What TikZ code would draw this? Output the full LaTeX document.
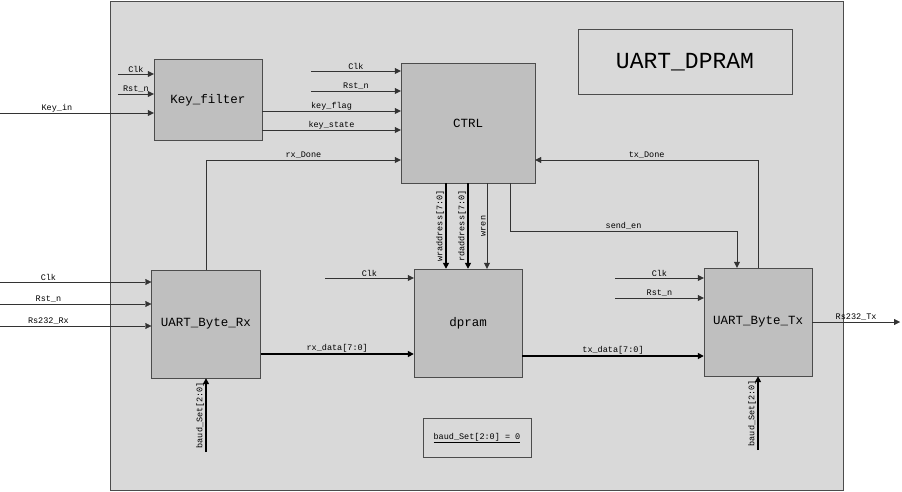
\documentclass[tikz,border=0pt]{standalone}
\usepackage{fontspec}
\setmainfont{Liberation Mono}
\usetikzlibrary{arrows.meta}
\definecolor{bgray}{RGB}{217,217,217}
\definecolor{mgray}{RGB}{191,191,191}
\begin{document}
\begin{tikzpicture}[x=1pt,y=-1pt,>={Triangle[length=6pt,width=6pt]},
  block/.style={draw=black!70,fill=mgray,inner sep=0pt,font=\fontsize{12.5}{12.5}\selectfont},
  sig/.style={->,draw=black!80,thin},
  bus/.style={->,draw=black,line width=1.6pt},
  lab/.style={font=\fontsize{8.5}{8.5}\selectfont,inner sep=1pt}]
\useasboundingbox (0,0) rectangle (902,491);

\node[draw=black!70,fill=bgray,minimum width=733pt,minimum height=489pt,anchor=north west] (top) at (110,1) {};
\node[draw=black!70,fill=bgray,minimum width=214pt,minimum height=65pt,font=\fontsize{23}{23}\selectfont] (title) at (685,62) {UART\_DPRAM};

\node[block,minimum width=108pt,minimum height=81pt] (kf) at (208,100) {Key\_filter};
\node[block,minimum width=134pt,minimum height=120pt] (ctrl) at (468,123) {CTRL};
\node[block,minimum width=108pt,minimum height=108pt] (ram) at (468,323) {dpram};
\node[block,minimum width=109pt,minimum height=108pt] (rx) at (206,324) {UART\_Byte\_Rx};
\node[block,minimum width=108pt,minimum height=108pt] (tx) at (758,322) {UART\_Byte\_Tx};
\node[draw=black!70,minimum width=108pt,minimum height=39pt,lab] (baud) at (477,438) {\underline{baud\_Set[2:0] = 0}};

% Key_filter inputs
\coordinate (kclk) at (118,74);
\coordinate (krst) at (118,94);
\coordinate (kin) at (0,113);
\draw[sig] (kclk) -- node[lab,above]{Clk} (kclk -| kf.west);
\draw[sig] (krst) -- node[lab,above]{Rst\_n} (krst -| kf.west);
\draw[sig] (kin) -- node[lab,above,pos=0.37]{Key\_in} (kin -| kf.west);

% CTRL inputs
\coordinate (cclk) at (311,71);
\coordinate (crst) at (311,91);
\draw[sig] (cclk) -- node[lab,above]{Clk} (cclk -| ctrl.west);
\draw[sig] (crst) -- node[lab,above]{Rst\_n} (crst -| ctrl.west);
\draw[sig] (kf.east |- 0,111) -- node[lab,above]{key\_flag} (ctrl.west |- 0,111);
\draw[sig] (kf.east |- 0,130) -- node[lab,above]{key\_state} (ctrl.west |- 0,130);
\draw[sig] (rx.north) -- (206,160) -- node[lab,above]{rx\_Done} (ctrl.west |- 0,160);
\draw[sig] (tx.north) -- (758,160) -- node[lab,above]{tx\_Done} (ctrl.east |- 0,160);
\draw[sig] (ctrl.south -| 510,0) -- (510,231) -- node[lab,above]{send\_en} (737,231) -- (tx.north -| 737,0);

% CTRL to dpram
\draw[bus] (ctrl.south -| 446,0) -- node[lab,rotate=90,anchor=south]{wraddress[7:0]} (ram.north -| 446,0);
\draw[bus] (ctrl.south -| 468,0) -- node[lab,rotate=90,anchor=south]{rdaddress[7:0]} (ram.north -| 468,0);
\draw[sig] (ctrl.south -| 487,0) -- node[lab,rotate=90,anchor=south]{wren} (ram.north -| 487,0);
\coordinate (dclk) at (325,278);
\draw[sig] (dclk) -- node[lab,above]{Clk} (dclk -| ram.west);

% Rx
\coordinate (rclk) at (0,282);
\coordinate (rrst) at (0,304);
\coordinate (rrx) at (0,326);
\draw[sig] (rclk) -- node[lab,above,pos=0.32]{Clk} (rclk -| rx.west);
\draw[sig] (rrst) -- node[lab,above,pos=0.32]{Rst\_n} (rrst -| rx.west);
\draw[sig] (rrx) -- node[lab,above,pos=0.32]{Rs232\_Rx} (rrx -| rx.west);
\draw[bus] (rx.east |- 0,354) -- node[lab,above]{rx\_data[7:0]} (ram.west |- 0,354);
\coordinate (rbaud) at (206,452);
\draw[bus] (rbaud) -- node[lab,rotate=90,anchor=south]{baud\_Set[2:0]} (rx.south);

% Tx
\coordinate (tclk) at (615,278);
\coordinate (trst) at (615,298);
\draw[sig] (tclk) -- node[lab,above]{Clk} (tclk -| tx.west);
\draw[sig] (trst) -- node[lab,above]{Rst\_n} (trst -| tx.west);
\draw[bus] (ram.east |- 0,356) -- node[lab,above]{tx\_data[7:0]} (tx.west |- 0,356);
\coordinate (ttx) at (900,322);
\draw[sig] (tx.east |- ttx) -- node[lab,above]{Rs232\_Tx} (ttx);
\coordinate (tbaud) at (758,450);
\draw[bus] (tbaud) -- node[lab,rotate=90,anchor=south]{baud\_Set[2:0]} (tx.south);
\end{tikzpicture}
\end{document}
